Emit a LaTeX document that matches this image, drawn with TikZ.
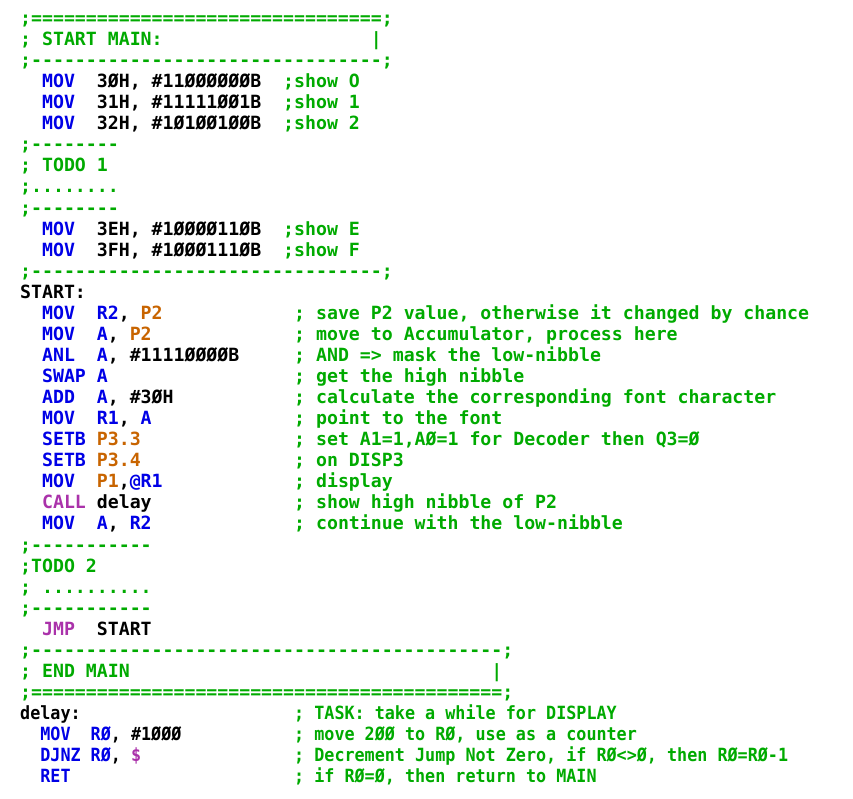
\documentclass[tikz,border=0pt]{standalone}
\usepackage{fontspec}
\setmonofont{DejaVu Sans Mono}
\definecolor{cg}{RGB}{0,170,0}
\definecolor{cb}{RGB}{0,0,230}
\definecolor{co}{RGB}{200,100,0}
\definecolor{cmag}{RGB}{170,50,170}
\begin{document}
\begin{tikzpicture}[x=1pt,y=-1pt,
  ln/.style={anchor=west,inner sep=0pt,text height=13pt,text depth=4pt,font=\ttfamily\bfseries\fontsize{18.2}{20}\selectfont},
  cd/.style={ln,text=black},
  cmt/.style={ln,text=cg},
  cond/.style={transform shape,xscale=0.92}]
\useasboundingbox (0,0) rectangle (853,799);
\def\p{21.06}
\def\C{294}
\newcommand\Y[1]{20+#1*\p}
\node[cmt] (l1) at (20,{\Y{0}}) {;================================;};
\node[cmt] (l2) at (20,{\Y{1}}) {;~START~MAIN:~~~~~~~~~~~~~~~~~~~|};
\node[cmt] (l3) at (20,{\Y{2}}) {;--------------------------------;};
\node[cd] (l4) at (20,{\Y{3}}) {~~\textcolor{cb}{MOV}~~3ØH,~\#11ØØØØØØB~~\textcolor{cg}{;show~O}};
\node[cd] (l5) at (20,{\Y{4}}) {~~\textcolor{cb}{MOV}~~31H,~\#11111ØØ1B~~\textcolor{cg}{;show~1}};
\node[cd] (l6) at (20,{\Y{5}}) {~~\textcolor{cb}{MOV}~~32H,~\#1Ø1ØØ1ØØB~~\textcolor{cg}{;show~2}};
\node[cmt] (l7) at (20,{\Y{6}}) {;--------};
\node[cmt] (l8) at (20,{\Y{7}}) {;~TODO~1};
\node[cmt] (l9) at (20,{\Y{8}}) {;........};
\node[cmt] (l10) at (20,{\Y{9}}) {;--------};
\node[cd] (l11) at (20,{\Y{10}}) {~~\textcolor{cb}{MOV}~~3EH,~\#1ØØØØ11ØB~~\textcolor{cg}{;show~E}};
\node[cd] (l12) at (20,{\Y{11}}) {~~\textcolor{cb}{MOV}~~3FH,~\#1ØØØ111ØB~~\textcolor{cg}{;show~F}};
\node[cmt] (l13) at (20,{\Y{12}}) {;--------------------------------;};
\node[cd] (l14) at (20,{\Y{13}}) {START:};
\node[cd] (l15) at (20,{\Y{14}}) {~~\textcolor{cb}{MOV~~R2}, \textcolor{co}{P2}};
\node[cd] (l16) at (20,{\Y{15}}) {~~\textcolor{cb}{MOV~~A}, \textcolor{co}{P2}};
\node[cd] (l17) at (20,{\Y{16}}) {~~\textcolor{cb}{ANL~~A}, \#1111ØØØØB};
\node[cd] (l18) at (20,{\Y{17}}) {~~\textcolor{cb}{SWAP~A}};
\node[cd] (l19) at (20,{\Y{18}}) {~~\textcolor{cb}{ADD~~A}, \#3ØH};
\node[cd] (l20) at (20,{\Y{19}}) {~~\textcolor{cb}{MOV~~R1}, \textcolor{cb}{A}};
\node[cd] (l21) at (20,{\Y{20}}) {~~\textcolor{cb}{SETB}~\textcolor{co}{P3.3}};
\node[cd] (l22) at (20,{\Y{21}}) {~~\textcolor{cb}{SETB}~\textcolor{co}{P3.4}};
\node[cd] (l23) at (20,{\Y{22}}) {~~\textcolor{cb}{MOV}~~\textcolor{co}{P1},\textcolor{cb}{@R1}};
\node[cd] (l24) at (20,{\Y{23}}) {~~\textcolor{cmag}{CALL}~delay};
\node[cd] (l25) at (20,{\Y{24}}) {~~\textcolor{cb}{MOV~~A}, \textcolor{cb}{R2}};
\node[cmt] (c15) at (\C,{\Y{14}}) {;~save~P2~value,~otherwise~it~changed~by~chance};
\node[cmt] (c16) at (\C,{\Y{15}}) {;~move~to~Accumulator,~process~here};
\node[cmt] (c17) at (\C,{\Y{16}}) {;~AND~=>~mask~the~low-nibble};
\node[cmt] (c18) at (\C,{\Y{17}}) {;~get~the~high~nibble};
\node[cmt] (c19) at (\C,{\Y{18}}) {;~calculate~the~corresponding~font~character};
\node[cmt] (c20) at (\C,{\Y{19}}) {;~point~to~the~font};
\node[cmt] (c21) at (\C,{\Y{20}}) {;~set~A1=1,AØ=1~for~Decoder~then~Q3=Ø};
\node[cmt] (c22) at (\C,{\Y{21}}) {;~on~DISP3};
\node[cmt] (c23) at (\C,{\Y{22}}) {;~display};
\node[cmt] (c24) at (\C,{\Y{23}}) {;~show~high~nibble~of~P2};
\node[cmt] (c25) at (\C,{\Y{24}}) {;~continue~with~the~low-nibble};
\node[cmt] (l26) at (20,{\Y{25}}) {;-----------};
\node[cmt] (l27) at (20,{\Y{26}}) {;TODO~2};
\node[cmt] (l28) at (20,{\Y{27}}) {;~..........};
\node[cmt] (l29) at (20,{\Y{28}}) {;-----------};
\node[cd] (l30) at (20,{\Y{29}}) {~~\textcolor{cmag}{JMP}~~START};
\node[cmt] (l31) at (20,{\Y{30}}) {;-------------------------------------------;};
\node[cmt] (l32) at (20,{\Y{31}}) {;~END~MAIN~~~~~~~~~~~~~~~~~~~~~~~~~~~~~~~~~|};
\node[cmt] (l33) at (20,{\Y{32}}) {;===========================================;};
\node[cd,cond] (l34) at (20,{\Y{33}}) {delay:};
\node[cd,cond] (l35) at (20,{\Y{34}}) {~~\textcolor{cb}{MOV~~RØ}, \#1ØØØ};
\node[cd,cond] (l36) at (20,{\Y{35}}) {~~\textcolor{cb}{DJNZ~RØ}, \textcolor{cmag}{\$}};
\node[cd,cond] (l37) at (20,{\Y{36}}) {~~\textcolor{cb}{RET}};
\node[cmt,cond] (c34) at (\C,{\Y{33}}) {;~TASK:~take~a~while~for~DISPLAY};
\node[cmt,cond] (c35) at (\C,{\Y{34}}) {;~move~2ØØ~to~RØ,~use~as~a~counter};
\node[cmt,cond] (c36) at (\C,{\Y{35}}) {;~Decrement~Jump~Not~Zero,~if~RØ<>Ø,~then~RØ=RØ-1};
\node[cmt,cond] (c37) at (\C,{\Y{36}}) {;~if~RØ=Ø,~then~return~to~MAIN};
\end{tikzpicture}
\end{document}
